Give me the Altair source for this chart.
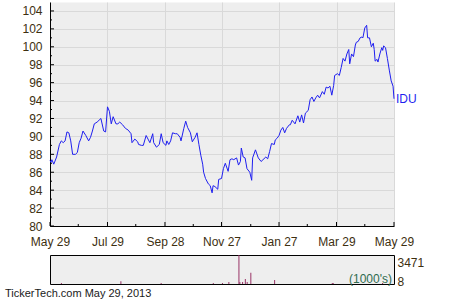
import altair as alt
import pandas as pd

# ---------------- data ----------------
start_date = "2012-05-29"
ticker = "IDU"
footer_text = "TickerTech.com  May 29, 2013"
volume_unit = "(1000's)"

# trading-day offsets (days since start) and closing prices
day_offsets = [0, 1, 2, 4, 7, 10, 12, 14, 16, 18, 20, 22, 24, 27, 29, 31, 33, 35, 38, 41,
               43, 45, 47, 50, 53, 54, 57, 59, 61, 63, 65, 67, 70, 72, 74, 77, 80, 83, 86, 87,
               90, 93, 94, 97, 99, 102, 104, 106, 109, 110, 113, 116, 118, 120, 123, 124, 126, 128, 130, 133,
               135, 138, 139, 142, 144, 146, 149, 151, 154, 156, 158, 160, 162, 163, 165, 168, 170, 172, 173, 175,
               178, 179, 182, 184, 186, 189, 191, 193, 195, 198, 200, 202, 203, 205, 207, 209, 212, 214, 215, 218,
               221, 224, 226, 229, 231, 233, 235, 238, 239, 241, 243, 245, 247, 249, 251, 254, 255, 257, 260, 261,
               263, 265, 267, 269, 271, 274, 276, 278, 280, 282, 284, 286, 289, 291, 293, 295, 297, 299, 301, 302,
               305, 307, 309, 311, 313, 315, 317, 318, 320, 322, 324, 325, 327, 329, 331, 332, 334, 336, 337, 339,
               341, 343, 344, 345, 347, 348, 350, 352, 353, 354, 356, 358, 360, 362, 364, 365]
prices = [87.3, 87.1, 87.4, 86.9, 87.7, 89.1, 89.5, 89.3, 89.5, 90.5, 90.4, 89.5, 88.0, 88.0, 88.2, 89.3, 89.8, 90.6, 90.1, 89.5,
          89.9, 90.6, 91.4, 91.6, 91.9, 92.0, 90.6, 90.5, 93.3, 92.8, 91.4, 92.2, 91.4, 91.4, 91.6, 91.3, 90.9, 90.7, 90.3, 89.3,
          89.7, 89.4, 89.1, 89.0, 89.0, 90.1, 89.7, 89.3, 90.3, 89.3, 88.8, 89.1, 90.3, 89.3, 89.0, 89.5, 89.1, 89.5, 90.4, 90.3,
          90.3, 89.9, 89.5, 90.9, 91.7, 91.0, 90.4, 89.4, 89.9, 90.4, 89.1, 87.9, 86.9, 86.0, 85.3, 84.7, 84.5, 83.7, 84.5, 84.4,
          84.1, 85.2, 85.3, 86.4, 87.0, 86.1, 87.4, 87.5, 87.4, 87.6, 86.8, 87.2, 88.7, 87.7, 87.6, 86.4, 86.0, 85.1, 87.6, 88.5,
          87.6, 87.2, 87.4, 87.7, 87.5, 88.3, 89.2, 89.1, 89.6, 89.8, 90.1, 90.7, 91.0, 90.4, 90.9, 91.3, 91.3, 91.8, 91.4, 91.7,
          92.3, 91.6, 92.4, 91.5, 92.6, 92.9, 94.1, 94.4, 93.9, 94.3, 94.6, 94.3, 95.0, 94.7, 95.5, 95.4, 95.6, 94.6, 95.7, 96.8,
          97.0, 96.8, 97.7, 98.7, 98.4, 99.2, 99.7, 98.1, 99.2, 98.9, 100.2, 100.5, 100.6, 101.0, 101.1, 101.0, 102.1, 102.4, 101.0, 101.0,
          100.0, 100.4, 99.7, 98.4, 98.6, 98.3, 99.2, 99.9, 99.6, 100.1, 99.9, 98.7, 97.4, 96.2, 95.6, 94.2]

# visible volume bars (thousands of shares)
volume_days = [7, 72, 116, 173, 183, 190, 201, 202, 205, 208, 210, 214, 240, 303, 304, 358]
volume_k = [130, 330, 120, 130, 130, 250, 3471, 250, 250, 610, 250, 1335, 490, 130, 130, 130]

major_ticks = ["2012-05-29", "2012-07-29", "2012-09-28", "2012-11-27",
               "2013-01-27", "2013-03-29", "2013-05-29"]
minor_ticks = ["2012-06-28", "2012-08-28", "2012-10-28", "2012-12-28",
               "2013-02-26", "2013-04-28"]
y_major = [80, 82, 84, 86, 88, 90, 92, 94, 96, 98, 100, 102, 104]
y_minor = [81, 83, 85, 87, 89, 91, 93, 95, 97, 99, 101, 103]
vol_labels = [8, 3471]

# ---------------- styling ----------------
FONT = "Liberation Sans"
LABEL = "#3d2f10"
BLUE = "#1f1ff0"
GRID = "#d9d9d9"
BG = "#eeeeee"
VOLC = "#993366"
GREEN = "#2f6b4f"


def dt(s):
    t = pd.Timestamp(s)
    return alt.DateTime(year=t.year, month=t.month, date=t.day)


base = pd.Timestamp(start_date)
price_df = pd.DataFrame({"date": base + pd.to_timedelta(day_offsets, unit="D"), "price": prices})
vol_df = pd.DataFrame({"date": base + pd.to_timedelta(volume_days, unit="D"), "vol": volume_k})
major_df = pd.DataFrame({"date": pd.to_datetime(major_ticks)})
minor_df = pd.DataFrame({"date": pd.to_datetime(minor_ticks)})
ymaj_df = pd.DataFrame({"price": y_major})
ymin_df = pd.DataFrame({"price": y_minor})
last_df = price_df.tail(1).assign(name=ticker)

xscale = alt.Scale(domain=[dt(major_ticks[0]), dt(major_ticks[-1])])
yscale = alt.Scale(domain=[80, 105], nice=False, zero=False)

x_axis = alt.Axis(values=[dt(s) for s in major_ticks], format="%b %d", grid=True, gridColor=GRID,
                  ticks=False, tickSize=0, domainColor="black", labelPadding=10, labelFontSize=12,
                  labelColor=LABEL, labelFlush=False, labelOverlap=False, title=None)
y_axis = alt.Axis(values=y_major, grid=True, gridColor=GRID, ticks=False, tickSize=0,
                  domainColor="black", labelPadding=8, labelFontSize=12, labelColor=LABEL,
                  labelFlush=False, labelOverlap=False, minExtent=45, title=None)

X = alt.X("date:T", scale=xscale, axis=x_axis)
Y = alt.Y("price:Q", scale=yscale, axis=y_axis)

line = alt.Chart(price_df).mark_line(color=BLUE, strokeWidth=1).encode(x=X, y=Y)
label = alt.Chart(last_df).mark_text(align="left", dx=2, fontSize=12, color=BLUE).encode(
    x=X, y=Y, text="name:N")
xt_major = alt.Chart(major_df).mark_rule(color="black").encode(
    x=X, y=alt.value(224), y2=alt.value(220))
xt_minor = alt.Chart(minor_df).mark_rule(color="black").encode(
    x=X, y=alt.value(224), y2=alt.value(222))
yt_major = alt.Chart(ymaj_df).mark_rule(color="black").encode(
    y=Y, x=alt.value(0), x2=alt.value(4))
yt_minor = alt.Chart(ymin_df).mark_rule(color="black").encode(
    y=Y, x=alt.value(0), x2=alt.value(2))

top = alt.layer(line, xt_major, xt_minor, yt_major, yt_minor, label).properties(
    width=344, height=224, view=alt.ViewBackground(fill=BG, stroke="transparent"))

bars = alt.Chart(vol_df).mark_bar(color=VOLC, width=1).encode(
    x=alt.X("date:T", scale=xscale, axis=None),
    y=alt.Y("vol:Q", scale=alt.Scale(domain=[0, 3471], nice=False),
            axis=alt.Axis(orient="right", values=vol_labels, format="d", ticks=False, domain=False,
                          grid=False, labelPadding=3, labelFontSize=12, labelColor=LABEL,
                          labelFlush=False, labelOverlap=False,
                          labelOffset={"condition": {"test": "datum.value > 1000", "value": 7},
                                       "value": -2},
                          title=None)),
)
unit_txt = alt.Chart(pd.DataFrame({"t": [volume_unit]})).mark_text(
    align="right", baseline="alphabetic", fontSize=12, color=GREEN).encode(
    x=alt.value(342), y=alt.value(28), text="t:N")
foot_txt = alt.Chart(pd.DataFrame({"t": [footer_text]})).mark_text(
    align="left", baseline="alphabetic", fontSize=11, color="#1a1a1a").encode(
    x=alt.value(-45), y=alt.value(41.5), text="t:N")

bottom = alt.layer(bars, unit_txt, foot_txt).properties(
    width=344, height=29, view=alt.ViewBackground(fill=BG, stroke="black", strokeWidth=1))

chart = alt.vconcat(top, bottom, spacing=6).properties(
    padding={"left": 4, "top": 1, "right": 0, "bottom": 0},
    background="white",
).configure(font=FONT).configure_view(stroke="transparent")

chart.save("out.html", embed_options={"renderer": "svg", "actions": False})
